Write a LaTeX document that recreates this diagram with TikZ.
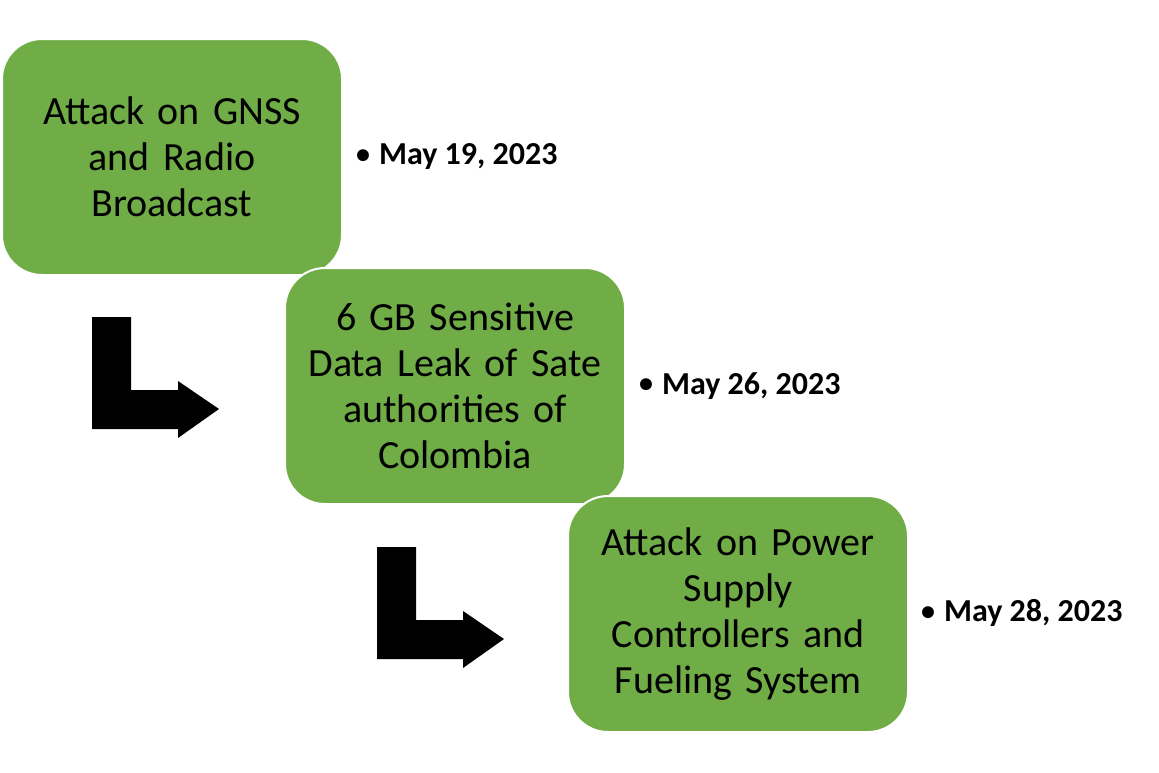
\documentclass[tikz,border=0pt]{standalone}
\usepackage{fontspec}
\setmainfont{Carlito}
\definecolor{boxgreen}{HTML}{70AD47}
\newcommand{\datebullet}{\raisebox{1.5pt}{\fontsize{28}{30}\selectfont •}\hspace{9pt}}
\begin{document}
\begin{tikzpicture}[x=1pt,y=-1pt,
  eventbox/.style={rectangle, rounded corners=40pt, minimum width=340pt, minimum height=236pt,
    fill=boxgreen, draw=white, line width=2pt, align=center, text width=330pt,
    font=\fontsize{40}{46}\selectfont, inner sep=0pt},
  datelabel/.style={anchor=west, font=\fontsize{32}{38}\selectfont\bfseries, inner sep=0pt},
  bentarrow/.style={fill=black}]
\useasboundingbox (0,0) rectangle (1159,772);
\node[eventbox] (b1) at (172,157) {Attack on GNSS\\and Radio\\Broadcast};
\node[eventbox] (b2) at (455,386) {6 GB Sensitive\\Data Leak of Sate\\authorities of\\Colombia};
\node[eventbox] (b3) at (738,614) {Attack on Power\\Supply\\Controllers and\\Fueling System};
\node[datelabel] (d1) at (356,157) {\datebullet May 19, 2023};
\node[datelabel] (d2) at (639,386) {\datebullet May 26, 2023};
\node[datelabel] (d3) at (921,613) {\datebullet May 28, 2023};
\foreach \dx/\dy in {0/0, 285/230} {
  \fill[bentarrow, shift={(\dx,\dy)}] (92,317) -- (131,317) -- (131,390) -- (178,390) -- (178,381)
    -- (219,409) -- (178,438) -- (178,429) -- (92,429) -- cycle;
}
\end{tikzpicture}
\end{document}
